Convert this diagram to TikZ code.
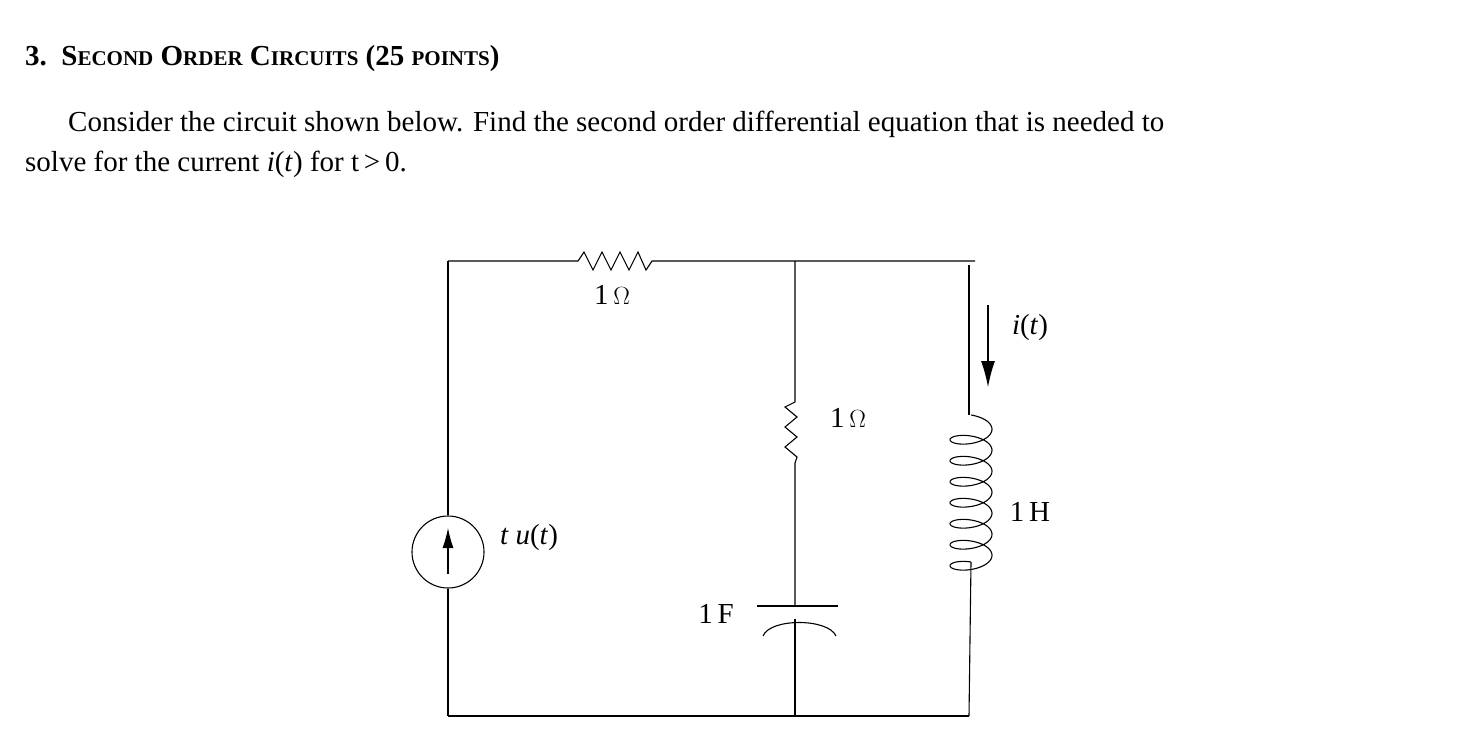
\documentclass[tikz,border=0pt]{standalone}
\usepackage{fontspec}
\usetikzlibrary{arrows.meta}
\setmainfont{Liberation Serif}
\newcommand\smc[1]{{\fontsize{21}{21}\selectfont #1}}
\begin{document}
\begin{tikzpicture}[x=1pt,y=-1pt,
  txt/.style={inner sep=0pt,font=\fontsize{29}{34}\selectfont},
  lbl/.style={inner sep=0pt,font=\fontsize{29}{34}\selectfont},
  wire/.style={line width=1.1pt}]
\useasboundingbox (0,0) rectangle (1480,754);
% text
\node[txt,anchor=base west] (title) at (25,66) {\bfseries 3.\ \ S\smc{ECOND} O\smc{RDER} C\smc{IRCUITS} (25 \smc{POINTS})};
\node[txt,anchor=base west] (l1) at (68,132) {Consider the circuit shown below. Find the second order differential equation that is needed to};
\node[txt,anchor=base west] (l2) at (25,172) {solve for the current \textit{i}(\textit{t}) for t\,>\,0.};
% coordinates
\coordinate (tl) at (448,261);
\coordinate (tm) at (795,261);
\coordinate (tr) at (975,261);
\coordinate (bl) at (448,716);
\coordinate (bm) at (795,716);
\coordinate (br) at (969,716);
% top resistor
\draw[wire] (tl) -- (578,261) -- (584,252) -- (593,270) -- (602,252) -- (611,270) -- (620,252) -- (629,270) -- (638,252) -- (646,270) -- (652,261) -- (tm) -- (tr);
\node[lbl] (r1) at (612,295) {1\,$\Omega$};
% source
\node[draw,circle,line width=1.1pt,minimum size=72pt,inner sep=0pt] (src) at (448,552) {};
\draw[wire] (tl) -- (src.north);
\draw[wire] (src.south) -- (bl);
\draw[line width=1.1pt,-{Latex[length=20pt,width=11pt]}] (448,574) -- (448,528);
\node[lbl,anchor=west] (srcl) at (500,538) {\textit{t u}(\textit{t})};
% middle branch
\draw[wire] (tm) -- (795,402) -- (785,407) -- (797,417) -- (785,427) -- (797,437) -- (785,447) -- (797,457) -- (795,463) -- (795,606);
\node[lbl] (r2) at (848,418) {1\,$\Omega$};
\draw[wire] (757,606) -- (838,606);
\draw[wire] (763,636) .. controls (770,618) and (828,618) .. (836,636);
\draw[wire] (795,619) -- (bm);
\node[lbl] (cl) at (716,614) {1\,F};
% right branch
\draw[wire] (969,265) -- (969,415);
\draw[wire,domain=0:2520,samples=300,smooth,variable=\t] plot ({971+21*sin(\t)},{415+\t/360*21+9-9*cos(\t)});
\draw[wire] (971,562) -- (br);
\node[lbl] (ll) at (1030,512) {1\,H};
\draw[line width=1.1pt,-{Latex[length=26pt,width=14pt]}] (988,305) -- (988,387);
\node[lbl] (il) at (1030,328) {\textit{i}(\textit{t})};
% bottom
\draw[wire] (bl) -- (bm) -- (br);
\end{tikzpicture}
\end{document}
